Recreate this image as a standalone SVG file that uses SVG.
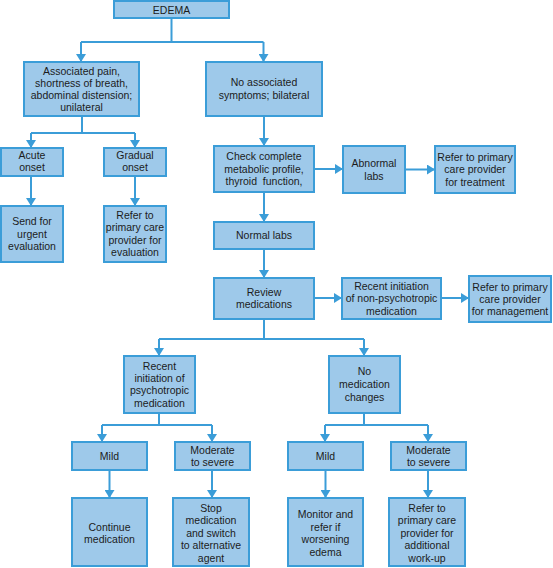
<svg xmlns="http://www.w3.org/2000/svg" width="553" height="568" viewBox="0 0 553 568">
<style>
.box{fill:#9ec9ea;stroke:#3b9dd8;stroke-width:2}
.lbl{font-family:"Liberation Sans",Arial,sans-serif;font-size:10.5px;fill:#1c1c1c;text-anchor:middle}
.ln{fill:none;stroke:#3b9dd8;stroke-width:2}
</style>
<defs>
<marker id="ah" viewBox="0 0 8 10" refX="8" refY="5" markerWidth="8" markerHeight="10" markerUnits="userSpaceOnUse" orient="auto">
<path d="M0,0 L8,5 L0,10 z" fill="#3b9dd8"/>
</marker>
</defs>
<rect width="553" height="568" fill="#ffffff"/>
<g id="connectors">
<path class="ln" d="M171.5,18 V42 H81 M81,42 H263.5"/>
<path class="ln" d="M81,42 V62" marker-end="url(#ah)"/>
<path class="ln" d="M263.5,42 V62" marker-end="url(#ah)"/>
<path class="ln" d="M82,116 V133 M31,133 H135"/>
<path class="ln" d="M31,133 V148" marker-end="url(#ah)"/>
<path class="ln" d="M135,133 V148" marker-end="url(#ah)"/>
<path class="ln" d="M31,176 V206" marker-end="url(#ah)"/>
<path class="ln" d="M135,176 V206" marker-end="url(#ah)"/>
<path class="ln" d="M264,116 V146" marker-end="url(#ah)"/>
<path class="ln" d="M314,169 H343" marker-end="url(#ah)"/>
<path class="ln" d="M405,169.5 H435" marker-end="url(#ah)"/>
<path class="ln" d="M264,192 V222" marker-end="url(#ah)"/>
<path class="ln" d="M264,249 V278" marker-end="url(#ah)"/>
<path class="ln" d="M314,298 H342" marker-end="url(#ah)"/>
<path class="ln" d="M441,298 H469" marker-end="url(#ah)"/>
<path class="ln" d="M264,319 V339 M159,339 H364"/>
<path class="ln" d="M159,339 V356" marker-end="url(#ah)"/>
<path class="ln" d="M364,339 V356" marker-end="url(#ah)"/>
<path class="ln" d="M159,413 V425 M102,425 H212"/>
<path class="ln" d="M102,425 V442" marker-end="url(#ah)"/>
<path class="ln" d="M212,425 V442" marker-end="url(#ah)"/>
<path class="ln" d="M109.5,470 V498" marker-end="url(#ah)"/>
<path class="ln" d="M212,470 V498" marker-end="url(#ah)"/>
<path class="ln" d="M364,413 V425 M325,425 H428"/>
<path class="ln" d="M325,425 V442" marker-end="url(#ah)"/>
<path class="ln" d="M428,425 V442" marker-end="url(#ah)"/>
<path class="ln" d="M325.5,470 V498" marker-end="url(#ah)"/>
<path class="ln" d="M428,470 V498" marker-end="url(#ah)"/>
</g>
<g id="n-edema"><rect class="box" x="114" y="1" width="115" height="17"/><text class="lbl" x="171.5" y="13.5">EDEMA</text></g>
<g id="n-assoc"><rect class="box" x="24" y="62" width="115" height="54"/><text class="lbl"><tspan x="81.5" y="74.5">Associated pain,</tspan><tspan x="81.5" y="86.8">shortness of breath,</tspan><tspan x="81.5" y="99.1">abdominal distension;</tspan><tspan x="81.5" y="111.4">unilateral</tspan></text></g>
<g id="n-noassoc"><rect class="box" x="206" y="62" width="116" height="54"/><text class="lbl"><tspan x="264" y="86.1">No associated</tspan><tspan x="264" y="98.5">symptoms; bilateral</tspan></text></g>
<g id="n-acute"><rect class="box" x="1" y="148" width="62" height="28"/><text class="lbl"><tspan x="32" y="159.1">Acute</tspan><tspan x="32" y="171.1">onset</tspan></text></g>
<g id="n-gradual"><rect class="box" x="104" y="148" width="62" height="28"/><text class="lbl"><tspan x="135" y="159.1">Gradual</tspan><tspan x="135" y="171.1">onset</tspan></text></g>
<g id="n-send"><rect class="box" x="1" y="206" width="62" height="56"/><text class="lbl"><tspan x="32" y="224.8">Send for</tspan><tspan x="32" y="237.5">urgent</tspan><tspan x="32" y="250.2">evaluation</tspan></text></g>
<g id="n-refereval"><rect class="box" x="104" y="206" width="62" height="56"/><text class="lbl"><tspan x="135" y="218.8">Refer to</tspan><tspan x="135" y="231.3">primary care</tspan><tspan x="135" y="243.8">provider for</tspan><tspan x="135" y="256.1">evaluation</tspan></text></g>
<g id="n-check"><rect class="box" x="214" y="146" width="100" height="46"/><text class="lbl"><tspan x="264" y="159.8">Check complete</tspan><tspan x="264" y="172.5">metabolic profile,</tspan><tspan x="264" y="185.2" xml:space="preserve">thyroid  function,</tspan></text></g>
<g id="n-abnormal"><rect class="box" x="343" y="146" width="62" height="47"/><text class="lbl"><tspan x="374" y="167.1">Abnormal</tspan><tspan x="374" y="179.5">labs</tspan></text></g>
<g id="n-refertreat"><rect class="box" x="435" y="146" width="80" height="47"/><text class="lbl"><tspan x="475" y="160.5">Refer to primary</tspan><tspan x="475" y="172.8">care provider</tspan><tspan x="475" y="185.5">for treatment</tspan></text></g>
<g id="n-normal"><rect class="box" x="214" y="222" width="100" height="27"/><text class="lbl" x="264" y="238.8">Normal labs</text></g>
<g id="n-review"><rect class="box" x="214" y="278" width="100" height="41"/><text class="lbl"><tspan x="264" y="295.5">Review</tspan><tspan x="264" y="307.8">medications</tspan></text></g>
<g id="n-nonpsych"><rect class="box" x="342" y="278" width="99" height="41"/><text class="lbl"><tspan x="391.5" y="289.5">Recent initiation</tspan><tspan x="391.5" y="302.1">of non-psychotropic</tspan><tspan x="391.5" y="314.5">medication</tspan></text></g>
<g id="n-refermgmt"><rect class="box" x="469" y="276" width="82" height="46"/><text class="lbl"><tspan x="510" y="290.5">Refer to primary</tspan><tspan x="510" y="302.8">care provider</tspan><tspan x="510" y="314.8">for management</tspan></text></g>
<g id="n-psych"><rect class="box" x="124" y="356" width="71" height="57"/><text class="lbl"><tspan x="159.5" y="369.5">Recent</tspan><tspan x="159.5" y="381.8">initiation of</tspan><tspan x="159.5" y="394.1">psychotropic</tspan><tspan x="159.5" y="406.5">medication</tspan></text></g>
<g id="n-nochange"><rect class="box" x="329" y="356" width="71" height="57"/><text class="lbl"><tspan x="364.5" y="374.8">No</tspan><tspan x="364.5" y="388.1">medication</tspan><tspan x="364.5" y="400.5">changes</tspan></text></g>
<g id="n-mildL"><rect class="box" x="72" y="442" width="75" height="28"/><text class="lbl" x="109.5" y="459.5">Mild</text></g>
<g id="n-modL"><rect class="box" x="175" y="442" width="75" height="28"/><text class="lbl"><tspan x="212.5" y="453.8">Moderate</tspan><tspan x="212.5" y="466.1">to severe</tspan></text></g>
<g id="n-continue"><rect class="box" x="72" y="498" width="75" height="68"/><text class="lbl"><tspan x="109.5" y="530.5">Continue</tspan><tspan x="109.5" y="542.5">medication</tspan></text></g>
<g id="n-stop"><rect class="box" x="173" y="498" width="76" height="68"/><text class="lbl"><tspan x="211" y="511.5">Stop</tspan><tspan x="211" y="523.8">medication</tspan><tspan x="211" y="536.5">and switch</tspan><tspan x="211" y="549.3">to alternative</tspan><tspan x="211" y="561.5">agent</tspan></text></g>
<g id="n-mildR"><rect class="box" x="288" y="442" width="75" height="28"/><text class="lbl" x="325.5" y="459.5">Mild</text></g>
<g id="n-modR"><rect class="box" x="391" y="442" width="75" height="28"/><text class="lbl"><tspan x="428.5" y="453.8">Moderate</tspan><tspan x="428.5" y="466.1">to severe</tspan></text></g>
<g id="n-monitor"><rect class="box" x="288" y="498" width="75" height="68"/><text class="lbl"><tspan x="325.5" y="518.1">Monitor and</tspan><tspan x="325.5" y="530.5">refer if</tspan><tspan x="325.5" y="543.1">worsening</tspan><tspan x="325.5" y="555.8">edema</tspan></text></g>
<g id="n-referadd"><rect class="box" x="389" y="498" width="76" height="68"/><text class="lbl"><tspan x="427" y="511.5">Refer to</tspan><tspan x="427" y="523.8">primary care</tspan><tspan x="427" y="536.5">provider for</tspan><tspan x="427" y="549.3">additional</tspan><tspan x="427" y="561.5">work-up</tspan></text></g>
</svg>
